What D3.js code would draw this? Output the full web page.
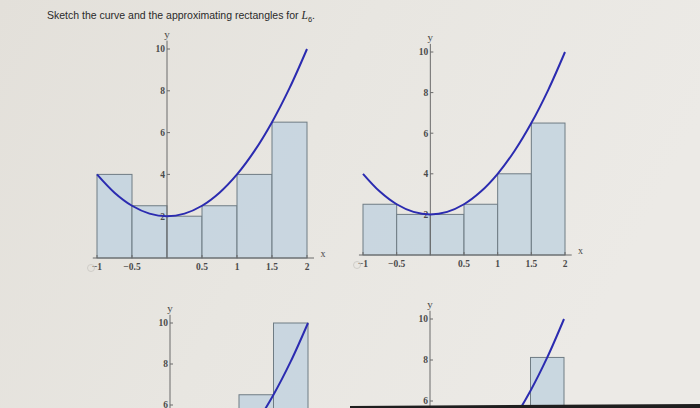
<!DOCTYPE html>
<html><head><meta charset="utf-8">
<script src="https://cdn.jsdelivr.net/npm/d3@7"></script>
<style>
html,body{margin:0;padding:0;background:#e6e4df;}
svg{display:block;}
</style></head>
<body>
<svg id="c" width="700" height="408"></svg>
<script>
// ---- data ----
const curveX = [-1, -0.75, -0.5, -0.25, 0, 0.25, 0.5, 0.75, 1, 1.25, 1.5, 1.75, 2];
const curveY = [4, 3.125, 2.5, 2.125, 2, 2.125, 2.5, 3.125, 4, 5.125, 6.5, 8.125, 10];
const rectLeft = [-1, -0.5, 0, 0.5, 1, 1.5];
const rectWidth = 0.5;
const heightsA = [4, 2.5, 2, 2.5, 4, 6.5];        // top-left
const heightsB = [2.5, 2, 2, 2.5, 4, 6.5];        // top-right
const heightsC = [2.5, 2, 2.5, 4, 6.5, 10];       // bottom-left
const heightsD = [3.125, 2.125, 2.125, 3.125, 5.125, 8.125]; // bottom-right
const xTicks = [-1, -0.5, 0.5, 1, 1.5, 2];
const xTickLabels = ["\u22121", "\u22120.5", "0.5", "1", "1.5", "2"];
const yTicks = [2, 4, 6, 8, 10];
const yTickLabels = ["2", "4", "6", "8", "10"];
const titleText = "Sketch the curve and the approximating rectangles for ";

const W = 700, H = 408;
const svg = d3.select("#c");
const defs = svg.append("defs");
const g = defs.append("linearGradient").attr("id","bg").attr("x1","0").attr("x2","1").attr("y1","0").attr("y2","0.3");
g.append("stop").attr("offset","0").attr("stop-color","#e3e0da");
g.append("stop").attr("offset","0.5").attr("stop-color","#e8e6e1");
g.append("stop").attr("offset","1").attr("stop-color","#eceae6");
svg.append("rect").attr("width",W).attr("height",H).attr("fill","url(#bg)");

// title
const t = svg.append("text").attr("x",47).attr("y",19)
  .attr("font-family","Liberation Sans, Arial, sans-serif").attr("font-size",10.5).attr("fill","#2a2a2a");
t.append("tspan").text(titleText);
t.append("tspan").attr("font-style","italic").attr("font-family","Liberation Serif, serif").attr("font-size",11.5).text("L");
t.append("tspan").attr("font-size",7.5).attr("dy",2.5).text("6");
t.append("tspan").attr("dy",-2.5).text(".");

const panels = [
  {h: heightsA, x0:97, x1:307, y0:258, y10:49},
  {h: heightsB, x0:363, x1:565, y0:255, y10:52},
  {h: heightsC, x0:101, x1:308, y0:528, y10:323},
  {h: heightsD, x0:363, x1:564, y0:524, y10:319}
];

const pts = curveX.map((x,i)=>[x,curveY[i]]);
const serif = "Liberation Serif, DejaVu Serif, serif";

panels.forEach(p=>{
  const xs = d3.scaleLinear().domain([-1,2]).range([p.x0,p.x1]);
  const ys = d3.scaleLinear().domain([0,10]).range([p.y0,p.y10]);
  const G = svg.append("g");
  // rectangles
  G.selectAll("rect.bar").data(rectLeft).join("rect")
    .attr("x", d=>xs(d)).attr("width", d=>xs(d+rectWidth)-xs(d))
    .attr("y",(d,i)=>ys(p.h[i])).attr("height",(d,i)=>ys(0)-ys(p.h[i]))
    .attr("fill","#c5d5e0").attr("fill-opacity",0.92)
    .attr("stroke","#6f7c84").attr("stroke-width",1);
  // y axis
  G.append("line").attr("x1",xs(0)).attr("x2",xs(0)).attr("y1",ys(10.4)).attr("y2",ys(0))
    .attr("stroke","#6a6a6a").attr("stroke-width",1);
  const yt = G.selectAll("g.yt").data(yTicks.filter(d=>ys(d) < H+2)).join("g")
    .attr("transform",d=>`translate(${xs(0)},${ys(d)})`);
  yt.append("line").attr("x1",0).attr("x2",3).attr("stroke","#6a6a6a");
  yt.append("text").attr("x",-2).attr("dy","0.35em").attr("text-anchor","end")
    .attr("font-family",serif).attr("font-size",9.5).attr("font-weight","bold").attr("fill","#4a4a4a")
    .text(d=>yTickLabels[yTicks.indexOf(d)]);
  G.append("text").attr("x",xs(0)).attr("y",ys(10.55)).attr("text-anchor","middle")
    .attr("font-family",serif).attr("font-size",11).attr("fill","#4a4a4a").text("y");
  // x axis (only if on screen)
  if (ys(0) < H) {
    G.append("line").attr("x1",xs(-1.06)).attr("x2",xs(2.1)).attr("y1",ys(0)).attr("y2",ys(0))
      .attr("stroke","#6a6a6a").attr("stroke-width",1);
    const xt = G.selectAll("g.xt").data(xTicks).join("g").attr("transform",d=>`translate(${xs(d)},${ys(0)})`);
    xt.append("line").attr("y1",0).attr("y2",-3).attr("stroke","#6a6a6a");
    xt.append("text").attr("y",12).attr("text-anchor","middle")
      .attr("font-family",serif).attr("font-size",9.5).attr("font-weight","bold").attr("fill","#4a4a4a")
      .text((d,i)=>xTickLabels[i]);
    G.append("text").attr("x",xs(2.23)).attr("y",ys(0)-1).attr("text-anchor","middle")
      .attr("font-family",serif).attr("font-size",10).attr("fill","#4a4a4a").text("x");
    // radio circle
    G.append("circle").attr("cx",xs(-1)-6).attr("cy",ys(0)+10).attr("r",3.5)
      .attr("fill","none").attr("stroke","#cfcdc8").attr("stroke-width",1);
  }
  // curve
  G.append("path").datum(pts)
    .attr("d", d3.line().x(d=>xs(d[0])).y(d=>ys(d[1])).curve(d3.curveCatmullRom))
    .attr("fill","none").attr("stroke","#2b2bb0").attr("stroke-width",2);
});

// dark screen edge at the bottom right
svg.append("path").attr("d","M350,406 L700,404 L700,408 L350,408 Z").attr("fill","#1e1e1e");
</script>
</body></html>
